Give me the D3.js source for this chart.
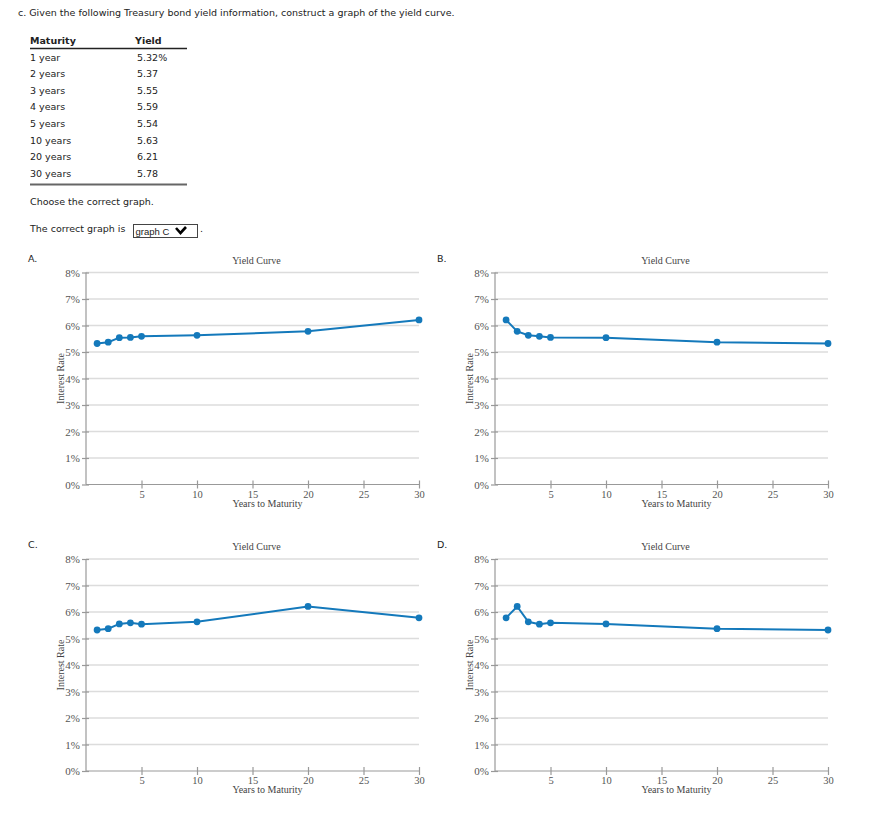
<!DOCTYPE html>
<html>
<head>
<meta charset="utf-8">
<script src="https://cdnjs.cloudflare.com/ajax/libs/d3/7.8.5/d3.min.js"></script>
<style>
  body { margin: 0; background: #fff; }
  svg { display: block; }
  .sans { font-family: "DejaVu Sans", Verdana, sans-serif; }
  .serif { font-family: "Liberation Serif", "Times New Roman", serif; }
</style>
</head>
<body>
<div id="chart"></div>
<script>
// table data
var maturityLabels = ["1 year", "2 years", "3 years", "4 years", "5 years", "10 years", "20 years", "30 years"];
var yieldLabels = ["5.32%", "5.37", "5.55", "5.59", "5.54", "5.63", "6.21", "5.78"];

// chart data
var maturities = [1, 2, 3, 4, 5, 10, 20, 30];
var yieldsA = [5.32, 5.37, 5.54, 5.55, 5.59, 5.63, 5.78, 6.21];
var yieldsB = [6.21, 5.78, 5.63, 5.59, 5.55, 5.54, 5.37, 5.32];
var yieldsC = [5.32, 5.37, 5.55, 5.59, 5.54, 5.63, 6.21, 5.78];
var yieldsD = [5.78, 6.21, 5.63, 5.54, 5.59, 5.55, 5.37, 5.32];
var yTicks = [0, 1, 2, 3, 4, 5, 6, 7, 8];
var xTicks = [5, 10, 15, 20, 25, 30];

var W = 872, H = 819;
var blue = "#1479bb";

var svg = d3.select("#chart").append("svg")
    .attr("width", W)
    .attr("height", H);

// ---- question text and table ----
svg.append("text").attr("class", "sans")
    .attr("x", 18).attr("y", 16)
    .style("font-size", "9.5px").style("fill", "#222")
    .text("c. Given the following Treasury bond yield information, construct a graph of the yield curve.");

var tbl = svg.append("g").attr("class", "sans").style("font-size", "9.5px").style("fill", "#222");
tbl.append("text").attr("x", 30).attr("y", 44).style("font-weight", "bold").text("Maturity");
tbl.append("text").attr("x", 135).attr("y", 44).style("font-weight", "bold").text("Yield");
tbl.append("line").attr("x1", 30).attr("x2", 187).attr("y1", 48.5).attr("y2", 48.5)
    .style("stroke", "#222").style("stroke-width", 1.5);

var rowY = d3.scaleLinear().domain([0, maturityLabels.length - 1]).range([60.5, 177]);
tbl.selectAll("text.mat").data(maturityLabels).enter().append("text")
    .attr("class", "mat").attr("x", 30).attr("y", function(d, i) { return rowY(i); })
    .text(function(d) { return d; });
tbl.selectAll("text.yld").data(yieldLabels).enter().append("text")
    .attr("class", "yld").attr("x", 137).attr("y", function(d, i) { return rowY(i); })
    .text(function(d) { return d; });
tbl.append("line").attr("x1", 30).attr("x2", 187).attr("y1", 184.5).attr("y2", 184.5)
    .style("stroke", "#666").style("stroke-width", 2);

tbl.append("text").attr("x", 30).attr("y", 205).text("Choose the correct graph.");
tbl.append("text").attr("x", 30).attr("y", 232).text("The correct graph is");
tbl.append("rect").attr("x", 133.5).attr("y", 224.5).attr("width", 64).attr("height", 13)
    .style("fill", "#fff").style("stroke", "#444");
tbl.append("text").attr("x", 135.5).attr("y", 234.5).style("font-size", "9.5px")
    .style("font-family", "Arial, 'Liberation Sans', sans-serif").text("graph C");
tbl.append("path").attr("d", "M176,228 L180.5,233 L186,227")
    .style("fill", "none").style("stroke", "#000").style("stroke-width", 2.6);
tbl.append("text").attr("x", 200).attr("y", 232).text(".");

// ---- yield curve panels ----
function YieldChart(label, values, left, top) {
    this.label = label;
    this.values = values;
    this.x = d3.scaleLinear().domain([0, 30]).range([left, left + 333]);
    this.y = d3.scaleLinear().domain([0, 8]).range([top + 212, top]);
    this.g = svg.append("g");
}

YieldChart.prototype.draw = function() {
    var x = this.x, y = this.y, g = this.g;
    var x0 = x.range()[0], x1 = x.range()[1];
    var y0 = y.range()[0], y1 = y.range()[1];
    var mid = (x0 + x1) / 2;

    g.append("text").attr("class", "sans")
        .attr("x", x0 - 58).attr("y", y1 - 11)
        .style("font-size", "9.5px").style("fill", "#222")
        .text(this.label);

    // gridlines
    g.selectAll("line.grid").data(yTicks.slice(1)).enter().append("line")
        .attr("class", "grid")
        .attr("x1", x0).attr("x2", x1)
        .attr("y1", function(d) { return y(d); })
        .attr("y2", function(d) { return y(d); })
        .style("stroke", "#dcdcdc").style("stroke-width", 1.5);

    // y axis
    var yAxis = g.append("g").attr("transform", "translate(" + x0 + ",0)")
        .call(d3.axisLeft(y).tickValues(yTicks).tickSize(4).tickPadding(2)
            .tickFormat(function(d) { return d + "%"; }));
    yAxis.select(".domain").attr("d", "M0," + y1 + "V" + y0).style("stroke", "#999");
    yAxis.selectAll(".tick line").attr("x1", 3).style("stroke", "#999");
    yAxis.selectAll(".tick text").attr("class", "serif")
        .style("font-size", "11px").style("fill", "#555");

    // x axis
    var xAxis = g.append("g").attr("transform", "translate(0," + y0 + ")")
        .call(d3.axisBottom(x).tickValues(xTicks).tickSize(4).tickPadding(2));
    xAxis.select(".domain").attr("d", "M" + x0 + ",0H" + x1).style("stroke", "#999");
    xAxis.selectAll(".tick line").attr("y1", -4).style("stroke", "#999");
    xAxis.selectAll(".tick text").attr("class", "serif")
        .style("font-size", "10.5px").style("fill", "#555");
    g.selectAll(".domain, .tick line").style("stroke-width", 1.2);

    // titles
    g.append("text").attr("class", "serif")
        .attr("x", mid + 4).attr("y", y1 - 9)
        .attr("text-anchor", "middle")
        .style("font-size", "10px").style("fill", "#444")
        .text("Yield Curve");
    g.append("text").attr("class", "serif")
        .attr("x", mid + 15).attr("y", y0 + 22)
        .attr("text-anchor", "middle")
        .style("font-size", "10px").style("fill", "#444")
        .text("Years to Maturity");
    g.append("text").attr("class", "serif")
        .attr("transform", "translate(" + (x0 - 22) + "," + (y0 - 106) + ") rotate(-90)")
        .attr("text-anchor", "middle")
        .style("font-size", "10px").style("fill", "#444")
        .text("Interest Rate");

    // series
    var pts = maturities.map(function(m, i) { return [m, this.values[i]]; }, this);
    var line = d3.line()
        .x(function(d) { return x(d[0]); })
        .y(function(d) { return y(d[1]); });
    g.append("path").datum(pts).attr("d", line)
        .style("fill", "none").style("stroke", blue).style("stroke-width", 2);
    g.selectAll("circle").data(pts).enter().append("circle")
        .attr("cx", function(d) { return x(d[0]); })
        .attr("cy", function(d) { return y(d[1]); })
        .attr("r", 3.4)
        .style("fill", blue);
};

new YieldChart("A.", yieldsA, 86, 272.5).draw();
new YieldChart("B.", yieldsB, 495, 272.5).draw();
new YieldChart("C.", yieldsC, 86, 559).draw();
new YieldChart("D.", yieldsD, 495, 559).draw();
</script>
</body>
</html>
